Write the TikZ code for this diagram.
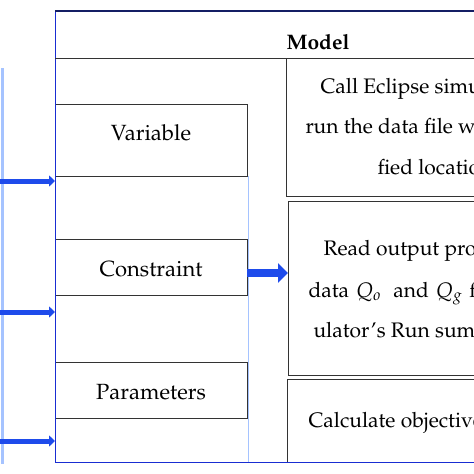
\documentclass[tikz,border=0pt]{standalone}
\usepackage[T1]{fontenc}
\usepackage{mathpazo}
\usepackage{xcolor}
\usetikzlibrary{arrows.meta, positioning, calc}

\definecolor{arrowblue}{RGB}{30,75,235}
\definecolor{edgeblue}{RGB}{25,45,210}
\definecolor{lineblue}{RGB}{165,195,255}
\definecolor{topnavy}{RGB}{20,30,100}

\begin{document}
\begin{tikzpicture}[x=1pt, y=-1pt, font=\fontsize{21}{25}\selectfont,
  box/.style={draw=black!80, line width=1pt, inner sep=0pt, outer sep=0pt, anchor=north west},
  feed/.style={draw=arrowblue, line width=5pt, -{Triangle[length=6pt, width=11pt]}},
  pass/.style={draw=arrowblue, line width=8pt, -{Triangle[length=10pt, width=19pt]}}]
\clip (0,0) rectangle (474,474);

% left column
\node[box, minimum width=192pt, minimum height=72pt] (var) at (55,104) {};
\node[box, minimum width=192pt, minimum height=56pt] (con) at (55,239) {};
\node[box, minimum width=192pt, minimum height=56pt] (par) at (55,362) {};
\node[anchor=base, font=\fontsize{22}{26}\selectfont] (varlabel) at (151,140) {Variable};
\node[anchor=base, font=\fontsize{22}{26}\selectfont] (conlabel) at (151,276) {Constraint};
\node[anchor=base, font=\fontsize{22}{26}\selectfont] (parlabel) at (151,399) {Parameters};

% right column
\node[box, minimum width=204pt, minimum height=138pt] (call) at (286,58) {};
\node[box, minimum width=202pt, minimum height=174pt] (read) at (288,201) {};
\node[box, minimum width=203pt, minimum height=83pt] (calc) at (287,379) {};
\node[anchor=base west] (call1) at (317,93) {Call Eclipse simu};
\node[anchor=base west] (call2) at (302,133) {run the data file w};
\node[anchor=base west] (call3) at (374,174) {fied locatio};
\node[anchor=base west] (read1) at (320,255) {Read output pro};
\node[anchor=base west] (read2) at (305,297) {data\hspace{7pt}$Q_o$\hspace{12pt}and\hspace{7pt}$Q_g$\hspace{7pt}f};
\node[anchor=base west] (read3) at (310,337) {ulator's Run sum};
\node[anchor=base west] (calc1) at (305,427) {Calculate objective};

% outer frame
\node[box, draw=edgeblue, minimum width=435pt, minimum height=451pt] (model) at (55,11) {};
\draw[topnavy, line width=2.5pt] (model.north west) -- (model.north east);
\draw[black!80, line width=1pt] (55,58) -- (call.north west);
\node[anchor=base, font=\fontsize{21}{25}\selectfont\bfseries] (title) at (318,49) {Model};
\draw[lineblue, line width=1pt] ([xshift=1pt]var.south east) -- ([xshift=1pt]var.south east |- model.south);

% inputs
\coordinate (feedtop) at (2,68);
\coordinate (feedbot) at (2,464);
\draw[lineblue, line width=3pt] (feedtop) -- (feedbot);
\coordinate (in1) at (0,181);
\coordinate (in2) at (0,312);
\coordinate (in3) at (0,441);
\draw[feed] (in1) -- (in1 -| model.west);
\draw[feed] (in2) -- (in2 -| model.west);
\draw[feed] (in3) -- (in3 -| model.west);
\draw[pass] ([yshift=-6pt]con.east) -- ([yshift=-6pt]con.east -| read.west);
\end{tikzpicture}
\end{document}
